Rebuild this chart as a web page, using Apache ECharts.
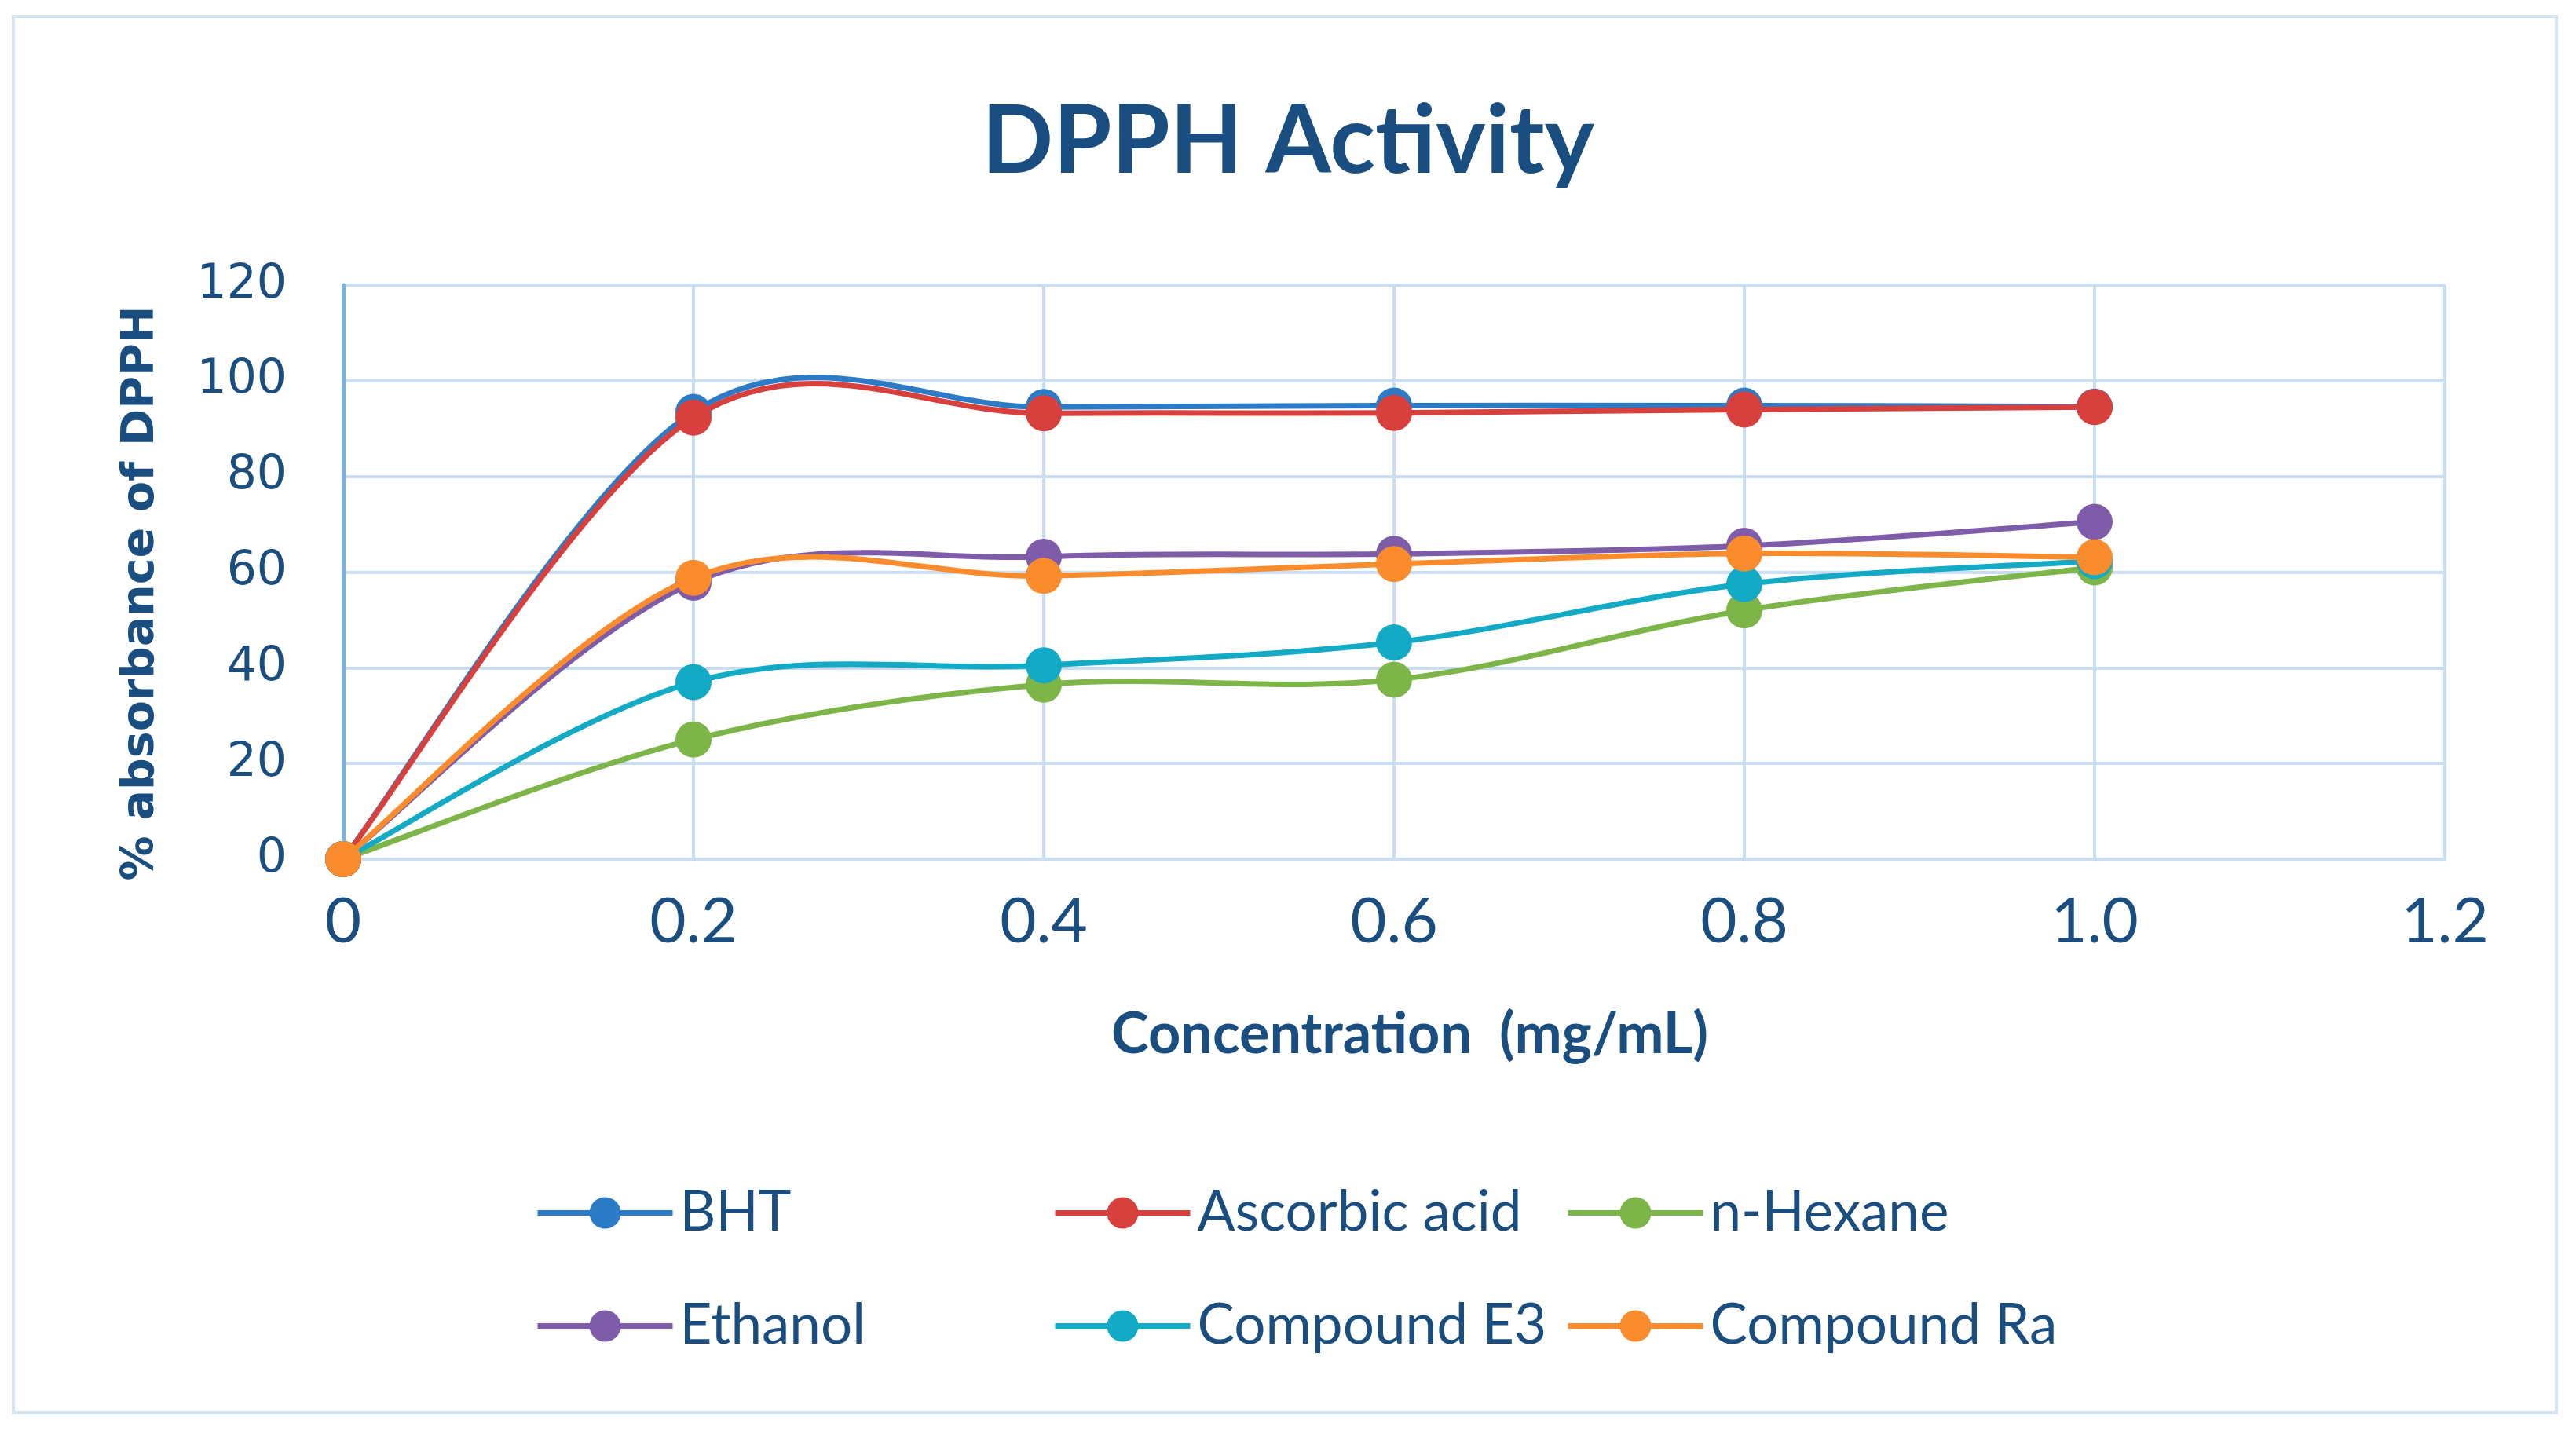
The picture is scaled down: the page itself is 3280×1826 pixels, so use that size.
<!DOCTYPE html>
<html>
<head>
<meta charset="utf-8">
<script src="https://cdn.jsdelivr.net/npm/echarts@6/dist/echarts.min.js"></script>
<style>
  html, body { margin: 0; padding: 0; background: #ffffff; }
  #chart { width: 3280px; height: 1826px; }
</style>
</head>
<body>
<div id="chart"></div>
<script>
// ---- Data ----
const concentrations = [0, 0.2, 0.4, 0.6, 0.8, 1.0];
const xTickLabels = ['0', '0.2', '0.4', '0.6', '0.8', '1.0', '1.2'];
const yTickLabels = ['0', '20', '40', '60', '80', '100', '120'];
const seriesNames = ['BHT', 'Ascorbic acid', 'n-Hexane', 'Ethanol', 'Compound E3', 'Compound Ra'];
const bhtValues       = [0, 93.5, 94.5, 94.8, 94.8, 94.6];
const ascorbicValues  = [0, 92.3, 93.2, 93.3, 94.0, 94.5];
const hexaneValues    = [0, 25.0, 36.5, 37.5, 52.0, 61.0];
const ethanolValues   = [0, 57.8, 63.2, 63.8, 65.5, 70.5];
const e3Values        = [0, 37.0, 40.5, 45.3, 57.5, 62.3];
const raValues        = [0, 58.8, 59.2, 61.7, 63.9, 63.1];

const seriesValues = [bhtValues, ascorbicValues, hexaneValues, ethanolValues, e3Values, raValues];
const seriesColors = ['#2C7BC6', '#D8403E', '#7DB548', '#7F5CA9', '#13AAC6', '#FA8C2E'];

const navy = '#1A4D80';
const gridColor = '#C9DEF3';
const lineWidth = 7;

const chart = echarts.init(document.getElementById('chart'), null, { renderer: 'canvas' });

// Spreadsheet-style smoothed curve (Catmull-Rom to Bezier) built from axis coordinates
function smoothPath(api, values) {
  const pts = concentrations.map((c, j) => api.coord([c, values[j]]));
  let d = 'M' + pts[0][0] + ' ' + pts[0][1];
  for (let j = 0; j < pts.length - 1; j++) {
    const p0 = pts[Math.max(j - 1, 0)];
    const p1 = pts[j];
    const p2 = pts[j + 1];
    const p3 = pts[Math.min(j + 2, pts.length - 1)];
    const c1x = p1[0] + (p2[0] - p0[0]) / 6;
    const c1y = p1[1] + (p2[1] - p0[1]) / 6;
    const c2x = p2[0] - (p3[0] - p1[0]) / 6;
    const c2y = p2[1] - (p3[1] - p1[1]) / 6;
    d += ' C' + c1x + ' ' + c1y + ' ' + c2x + ' ' + c2y + ' ' + p2[0] + ' ' + p2[1];
  }
  return d;
}

const series = [];
seriesNames.forEach((name, i) => {
  series.push({
    type: 'custom',
    silent: true,
    z: 2 + 2 * i,
    data: [[0, 0]],
    renderItem: function (params, api) {
      return {
        type: 'path',
        shape: { pathData: smoothPath(api, seriesValues[i]) },
        style: { fill: null, stroke: seriesColors[i], lineWidth: lineWidth, lineJoin: 'round', lineCap: 'round' }
      };
    }
  });
  series.push({
    name: name,
    type: 'line',
    symbol: 'circle',
    symbolSize: 46,
    showSymbol: true,
    data: concentrations.map((c, j) => [c, seriesValues[i][j]]),
    lineStyle: { color: seriesColors[i], width: 0, opacity: 0 },
    itemStyle: { color: seriesColors[i] },
    z: 3 + 2 * i
  });
});

// legend layout: 3 columns x 2 rows
const legendCols = [676, 1335, 1988];
const legendRows = [1504, 1648];
const legends = seriesNames.map((name, i) => ({
  data: [name],
  left: legendCols[i % 3],
  top: legendRows[Math.floor(i / 3)],
  itemWidth: 172,
  itemHeight: 50,
  itemGap: 0,
  lineStyle: { color: seriesColors[i], width: lineWidth, opacity: 1 },
  itemStyle: { color: seriesColors[i] },
  textStyle: { color: navy, fontSize: 71, fontFamily: 'Lato', padding: [0, 0, 0, 4] },
  selectedMode: false
}));

chart.setOption({
  backgroundColor: '#ffffff',
  animation: false,
  title: {
    text: 'DPPH Activity',
    left: 'center',
    top: 116,
    textStyle: { color: navy, fontSize: 120, fontWeight: 'bold', fontFamily: 'Lato' }
  },
  graphic: [{
    type: 'rect',
    shape: { x: 17, y: 21, width: 3238, height: 1778 },
    style: { fill: null, stroke: '#D5E3F1', lineWidth: 4 },
    silent: true,
    z: -1
  }],
  legend: legends,
  grid: { left: 437, right: 167, top: 363, bottom: 732, containLabel: false },
  xAxis: {
    type: 'value',
    min: 0,
    max: 1.2,
    interval: 0.2,
    name: 'Concentration  (mg/mL)',
    nameLocation: 'middle',
    nameGap: 188,
    nameTextStyle: { color: navy, fontSize: 72, fontWeight: 'bold', fontFamily: 'Lato', padding: [0, 0, 0, 40] },
    axisLine: { show: true, lineStyle: { color: gridColor, width: 4 } },
    axisTick: { show: false },
    splitLine: { show: true, lineStyle: { color: gridColor, width: 4 } },
    axisLabel: {
      color: navy,
      fontSize: 80,
      fontFamily: 'Lato',
      margin: 40,
      formatter: function (v) { return xTickLabels[Math.round(v / 0.2)]; }
    }
  },
  yAxis: {
    type: 'value',
    min: 0,
    max: 120,
    interval: 20,
    name: '% absorbance of DPPH',
    nameLocation: 'middle',
    nameGap: 228,
    nameRotate: 90,
    nameTextStyle: { color: navy, fontSize: 57, fontWeight: 'bold', fontFamily: 'DejaVu Sans', padding: [0, 54, 0, 0] },
    axisLine: { show: true, lineStyle: { color: '#7DB0E3', width: 5 } },
    axisTick: { show: false },
    splitLine: { show: true, lineStyle: { color: gridColor, width: 4 } },
    axisLabel: {
      color: navy,
      fontSize: 60,
      fontFamily: 'DejaVu Sans',
      margin: 72,
      formatter: function (v) { return yTickLabels[Math.round(v / 20)]; }
    }
  },
  series: series
});
</script>
</body>
</html>
